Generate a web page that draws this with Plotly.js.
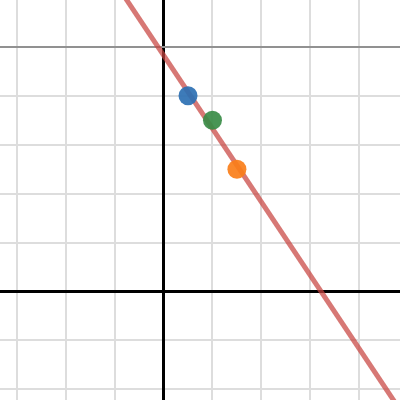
<!DOCTYPE html>
<html>
<head>
<meta charset="utf-8">
<script src="https://cdn.plot.ly/plotly-3.0.1.min.js"></script>
<style>
  html, body { margin: 0; padding: 0; background: #fff; }
  #plot { width: 400px; height: 400px; }
</style>
</head>
<body>
<div id="plot"></div>
<script>
// points
var pointX = [0.5, 1, 1.5];
var pointY = [4, 3.5, 2.5];
var pointColors = ["#2d70b3", "#388c46", "#fa7e19"];

// best fit line, two far-off ends (y = 4.83 - 1.5x)
var fitX = [-4, 5];
var fitY = [10.83, -2.67];

// the grey horizontal line at y = 5
var levelX = [-4, 5];
var levelY = [5, 5];

var levelTrace = {
  x: levelX,
  y: levelY,
  mode: "lines",
  line: {color: "rgb(145,145,145)", width: 2},
  hoverinfo: "skip"
};

var fitTrace = {
  x: fitX,
  y: fitY,
  mode: "lines",
  line: {color: "rgba(199,68,64,0.72)", width: 5},
  hoverinfo: "skip"
};

var pointTrace = {
  x: pointX,
  y: pointY,
  mode: "markers",
  marker: {color: pointColors, size: 19, opacity: 0.92}
};

var layout = {
  width: 400,
  height: 400,
  margin: {l: 0, r: 0, t: 0, b: 0},
  showlegend: false,
  paper_bgcolor: "#fff",
  plot_bgcolor: "#fff",
  xaxis: {
    range: [-3.345, 4.835],
    dtick: 1,
    showticklabels: false,
    ticks: "",
    showgrid: true,
    gridcolor: "rgb(221,221,221)",
    gridwidth: 2,
    zeroline: true,
    zerolinecolor: "#000",
    zerolinewidth: 3,
    fixedrange: true
  },
  yaxis: {
    range: [-2.22, 5.96],
    dtick: 1,
    showticklabels: false,
    ticks: "",
    showgrid: true,
    gridcolor: "rgb(221,221,221)",
    gridwidth: 2,
    zeroline: true,
    zerolinecolor: "#000",
    zerolinewidth: 3,
    fixedrange: true
  }
};

Plotly.newPlot("plot", [levelTrace, fitTrace, pointTrace], layout, {displayModeBar: false, staticPlot: true});
</script>
</body>
</html>
